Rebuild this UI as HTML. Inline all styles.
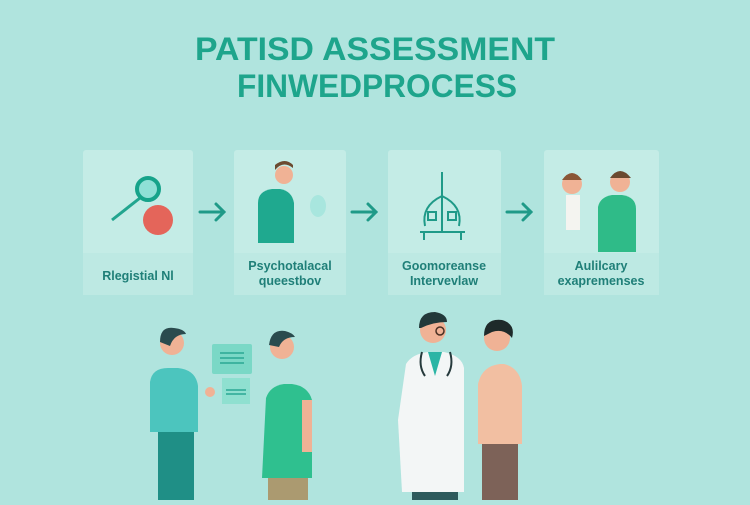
<!DOCTYPE html>
<html><head><meta charset="utf-8"><style>
body{margin:0;width:750px;height:500px;overflow:hidden;background:#b0e4de;font-family:"Liberation Sans",sans-serif}
</style></head><body>
<svg width="750" height="500" viewBox="0 0 750 500" xmlns="http://www.w3.org/2000/svg">
<rect width="750" height="500" fill="#b0e4de"/>
<g font-family="Liberation Sans, sans-serif" font-weight="bold" fill="#1ea58c" font-size="32">
<text x="195" y="60" textLength="360" lengthAdjust="spacingAndGlyphs">PATISD ASSESSMENT</text>
<text x="237" y="97" textLength="280" lengthAdjust="spacingAndGlyphs">FINWEDPROCESS</text>
</g>
<g>
<rect x="83" y="150" width="110" height="145" rx="3" fill="#c4ece6"/>
<rect x="83" y="253" width="110" height="42" fill="#bde9e3"/>
<rect x="234" y="150" width="112" height="145" rx="3" fill="#c4ece6"/>
<rect x="234" y="253" width="112" height="42" fill="#bde9e3"/>
<rect x="388" y="150" width="113" height="145" rx="3" fill="#c4ece6"/>
<rect x="388" y="253" width="113" height="42" fill="#bde9e3"/>
<rect x="544" y="150" width="115" height="145" rx="3" fill="#c4ece6"/>
<rect x="544" y="253" width="115" height="42" fill="#bde9e3"/>
</g>
<g font-family="Liberation Sans, sans-serif" fill="#1f7f78" text-anchor="middle" font-size="12.5" font-weight="bold">
<text x="138" y="280">Rlegistial Nl</text>
<text x="290" y="270">Psychotalacal</text>
<text x="290" y="285">queestbov</text>
<text x="444" y="270">Goomoreanse</text>
<text x="444" y="285">Intervevlaw</text>
<text x="601" y="270">Aulilcary</text>
<text x="601" y="285">exapremenses</text>
</g>
<g stroke="#1f9a88" stroke-width="3" fill="none" stroke-linecap="round">
<path d="M200 212h24M216 204l8 8-8 8"/>
<path d="M352 212h24M368 204l8 8-8 8"/>
<path d="M507 212h24M523 204l8 8-8 8"/>
</g>
<circle cx="158" cy="220" r="15" fill="#e4655a"/>
<line x1="112" y1="220" x2="140" y2="198" stroke="#22a58f" stroke-width="3"/>
<circle cx="148" cy="189" r="11" fill="#8fe0d6" stroke="#16a38a" stroke-width="4"/>
<path d="M258 243v-40q0-12 14-14h8q12 2 14 14v40z" fill="#1fa98f"/>
<circle cx="284" cy="175" r="9" fill="#f0b295"/>
<path d="M275 170q8-10 18-2v-3q-8-8-18 0z" fill="#6b4a30"/>
<ellipse cx="318" cy="206" rx="8" ry="11" fill="#a8e6de"/>
<g stroke="#1f9a88" stroke-width="2" fill="none">
<path d="M420 232h45M424 232v8M461 232v8M442 172v60"/>
<path d="M425 226q-4-20 17-30q21 10 17 30"/>
<rect x="428" y="212" width="8" height="8"/><rect x="448" y="212" width="8" height="8"/>
</g>
<circle cx="572" cy="184" r="10" fill="#f0b295"/>
<path d="M562 180q10-14 20 0" fill="#8a5535"/>
<path d="M566 195h14v35h-14z" fill="#f4f4f0"/>
<path d="M598 252v-45q2-10 14-12h10q14 2 14 14v43z" fill="#2fbb88"/>
<circle cx="620" cy="182" r="10" fill="#f0b295"/>
<path d="M610 178q10-14 21 0" fill="#6b4a30"/>
<rect x="158" y="430" width="36" height="70" fill="#1f8f86"/>
<path d="M150 432v-50q2-14 18-14h10q18 2 20 18v46z" fill="#4cc5be"/>
<circle cx="172" cy="343" r="12" fill="#f0b295"/>
<path d="M160 342q0-16 14-14q10 1 12 6q-12 0-16 12z" fill="#2a4b4e"/>
<circle cx="210" cy="392" r="5" fill="#f0b295"/>
<rect x="212" y="344" width="40" height="30" rx="2" fill="#7ad8c6"/>
<path d="M220 353h24M220 358h24M220 363h24" stroke="#2aa894" stroke-width="1.5"/>
<rect x="222" y="378" width="28" height="26" fill="#8fe0d0"/>
<path d="M226 390h20M226 394h20" stroke="#2aa894" stroke-width="1.5"/>
<rect x="268" y="478" width="40" height="22" fill="#ab9a70"/>
<path d="M262 478l4-80q4-12 18-14h8q16 2 20 16v78z" fill="#2fc08f"/>
<rect x="302" y="400" width="10" height="52" fill="#f0b295"/>
<circle cx="282" cy="347" r="12" fill="#f0b295"/>
<path d="M269 345q2-16 16-14q8 2 10 6q-12 0-16 10z" fill="#2a4b4e"/>
<rect x="412" y="490" width="46" height="10" fill="#2d5a5c"/>
<path d="M398 420l8-56q6-10 22-12h16q18 4 20 16l0 124h-62z" fill="#f3f6f6"/>
<path d="M428 352h14l-7 24z" fill="#2bb5a5"/>
<circle cx="433" cy="330" r="13" fill="#f0b295"/>
<path d="M419 328q0-16 16-16q12 2 12 10q-14 0-26 6z" fill="#22393a"/>
<circle cx="440" cy="331" r="4" fill="none" stroke="#4a3024" stroke-width="1.5"/>
<path d="M422 352q-4 14 3 24M450 352q4 14-3 24" stroke="#263a3c" stroke-width="2" fill="none"/>
<rect x="482" y="440" width="36" height="60" fill="#7d6258"/>
<path d="M478 444v-60q4-18 22-20h4q16 4 18 22v58z" fill="#f2bfa2"/>
<circle cx="497" cy="338" r="13" fill="#f0b295"/>
<path d="M484 336q0-18 18-16q14 4 10 18q-8-10-20-6z" fill="#1e2a2a"/>
</svg>
</body></html>
